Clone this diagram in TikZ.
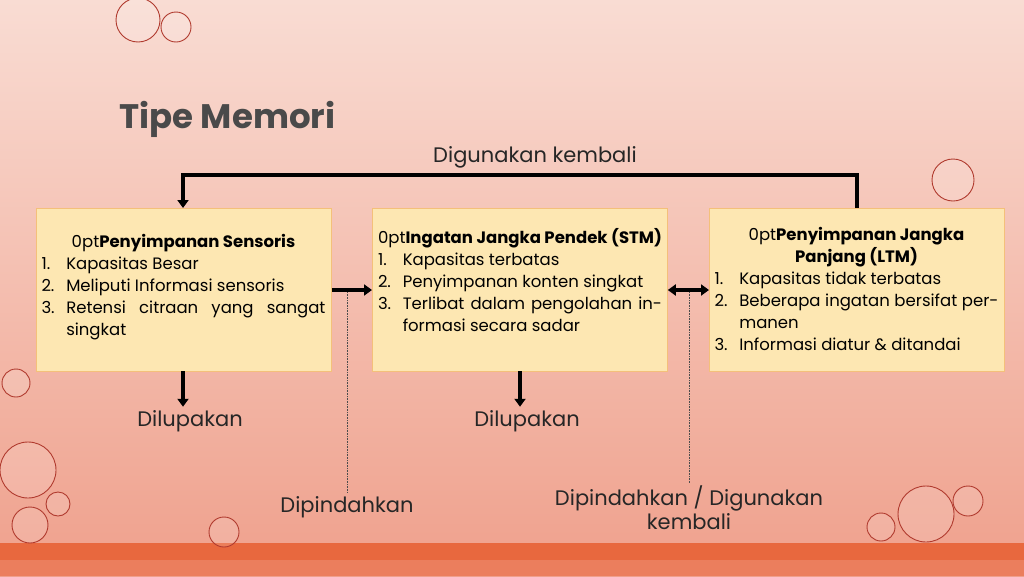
\documentclass[tikz,border=0pt]{standalone}
\usepackage{fontspec}
\setmainfont{Poppins}
\usetikzlibrary{arrows.meta}
\definecolor{bgtop}{HTML}{F9DCD3}
\definecolor{bgbot}{HTML}{EFA08C}
\definecolor{boxfill}{HTML}{FDE7B2}
\definecolor{boxline}{HTML}{F4C07A}
\definecolor{ring}{HTML}{B03A2E}
\definecolor{band}{HTML}{E8683E}
\definecolor{titlec}{HTML}{4A4A4A}
\tikzset{
  membox/.style={draw=boxline,fill=boxfill,line width=0.8pt,minimum width=295pt,minimum height=163pt,anchor=north west,inner sep=0pt},
  boxtext/.style={text width=284pt,align=justify,font=\fontsize{16.5}{22}\selectfont\hyphenpenalty=10000\exhyphenpenalty=10000,anchor=north},
  bigarrow/.style={line width=3.5pt,-{Triangle[length=8pt,width=11pt]}},
  dblarrow/.style={line width=3.5pt,{Triangle[length=8pt,width=11pt]}-{Triangle[length=8pt,width=11pt]}},
  lbl/.style={font=\fontsize{21}{24}\selectfont,text=black!85},
  dotline/.style={densely dotted,line width=0.6pt,black!70},
  bubble/.style={draw=ring,line width=0.9pt,fill=white,fill opacity=0.15}
}
\newcommand{\itm}[2]{\hangindent=1.5em\hangafter=1\noindent\makebox[1.5em][l]{#1.}#2\par}
\begin{document}
\begin{tikzpicture}[x=1pt,y=-1pt]
\useasboundingbox (0,0) rectangle (1024,576);
\shade[top color=bgtop,bottom color=bgbot] (0,0) rectangle (1024,576);
\fill[band] (0,543) rectangle (1024,560);
\fill[band!60!bgbot] (0,560) rectangle (1024,576);
\foreach \x/\y/\r in {138/20/22,176/27/15,953/180/21,16/383/14,28/470/28,58/504/12,30/525/18,224/532/15,926/514/28,968/501/15,881/527/14}
  \draw[bubble] (\x,\y) circle (\r);
\node[font=\bfseries\fontsize{34}{38}\selectfont,text=titlec,anchor=west] (title) at (116,119) {Tipe Memori};
\node[membox] (b1) at (36,208) {};
\node[membox] (b2) at (372,208) {};
\node[membox] (b3) at (709,208) {};
\node[boxtext] (t1) at (183.5,231) {{\centering\textbf{Penyimpanan Sensoris}\par}
\itm{1}{Kapasitas Besar}\itm{2}{Meliputi Informasi sensoris}\itm{3}{Retensi citraan yang sangat singkat}};
\node[boxtext] (t2) at (520,225) {{\centering\textbf{Ingatan Jangka Pendek (STM)}\par}
\itm{1}{Kapasitas terbatas}\itm{2}{Penyimpanan konten singkat}\itm{3}{Terlibat dalam pengolahan informasi secara sadar}};
\node[boxtext] (t3) at (856.5,224) {{\centering\textbf{Penyimpanan Jangka\\ Panjang (LTM)}\par}
\itm{1}{Kapasitas tidak terbatas}\itm{2}{Beberapa ingatan bersifat permanen}\itm{3}{Informasi diatur \& ditandai}};
\coordinate (c1) at (857,175);
\coordinate (c2) at (183,175);
\draw[bigarrow] (857,208) -- (c1) -- (c2) -- (183,208);
\node[lbl] (dk) at (535,157) {Digunakan kembali};
\draw[bigarrow] (b1.east |- 0,290) -- (b2.west |- 0,290);
\draw[dblarrow] (b2.east |- 0,290) -- (b3.west |- 0,290);
\node[lbl] (d1) at (190,421) {Dilupakan};
\node[lbl] (d2) at (527,421) {Dilupakan};
\draw[bigarrow] (183,371) -- (d1.north -| 183,0);
\draw[bigarrow] (520,371) -- (d2.north -| 520,0);
\node[lbl] (p1) at (347,507) {Dipindahkan};
\node[lbl,align=center] (p2) at (689,508) {Dipindahkan / Digunakan\\kembali};
\draw[dotline] (347,292) -- (p1.north);
\draw[dotline] (689,292) -- (p2.north);
\end{tikzpicture}
\end{document}
